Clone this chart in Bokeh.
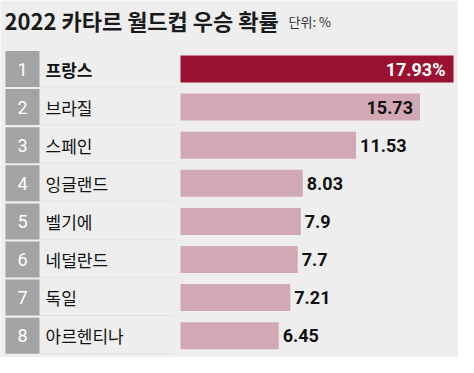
from bokeh.plotting import figure
from bokeh.models import ColumnDataSource, Range1d
from bokeh.core.properties import value
from bokeh.embed import file_html
from bokeh.resources import INLINE

# ---- data ----
ranks = [1, 2, 3, 4, 5, 6, 7, 8]
rank_labels = ["1", "2", "3", "4", "5", "6", "7", "8"]
countries = ["프랑스", "브라질", "스페인", "잉글랜드", "벨기에", "네덜란드", "독일", "아르헨티나"]
probs = [17.93, 15.73, 11.53, 8.03, 7.9, 7.7, 7.21, 6.45]
prob_labels = ["17.93%", "15.73", "11.53", "8.03", "7.9", "7.7", "7.21", "6.45"]
title_text = "2022 카타르 월드컵 우승 확률"
unit_text = "단위: %"

# ---- layout helpers (reference pixel -> data) ----
W, H = 458, 357
PX = 15.226          # pixels per percentage point
X0 = 188             # reference x of value 0
ROW = 38.1           # row pitch in pixels
Y1 = 76.5            # reference y of row 1 centre


def xd(px):
    return (px - X0) / PX


def yd(py):
    return 1 + (py - Y1) / ROW


BG = "#eeeeee"
DARK = "#9b1131"
PINK = "#d3a8b5"
BOX = "#a3a3a3"
KFONT = "Noto Sans CJK KR"
NFONT = "Roboto"

p = figure(width=W, height=H, output_backend="svg", toolbar_location=None,
           x_range=Range1d(xd(8), xd(8 + W)), y_range=Range1d(yd(8 + H), yd(8)),
           min_border=0)
p.axis.visible = False
p.grid.visible = False
p.outline_line_color = None
p.background_fill_color = BG
p.border_fill_color = BG

# title
p.text(x=[xd(12)], y=[yd(27)], text=[title_text], text_font=value(KFONT),
       text_font_size="22px", text_font_style="bold", text_color="#1a1a1a",
       text_baseline="middle", text_align="left")
p.text(x=[xd(296)], y=[yd(28.5)], text=[unit_text], text_font=value(KFONT),
       text_font_size="13px", text_color="#333333",
       text_baseline="middle", text_align="left")

half_box = 18 / ROW
src = ColumnDataSource(dict(
    rank=ranks, rank_label=rank_labels, country=countries, prob=probs,
    prob_label=prob_labels,
    top=[r - half_box for r in ranks], bottom=[r + half_box for r in ranks],
    sep=[r + 0.47 for r in ranks],
    color=[DARK if i == 0 else PINK for i in range(len(ranks))],
))

# row separators
p.segment(x0=xd(47), x1=xd(182), y0="sep", y1="sep", source=src,
          line_color="#e2e2e2", line_width=1)

# rank boxes
p.quad(left=xd(13), right=xd(47), top="top", bottom="bottom", source=src,
       fill_color=BOX, line_color=None)
p.text(x=xd(30), y="rank", text="rank_label", source=src, text_font=value(NFONT),
       text_font_size="18px", text_color="white", text_align="center",
       text_baseline="middle")

# country names
first = ColumnDataSource(dict(rank=ranks[:1], country=countries[:1]))
rest = ColumnDataSource(dict(rank=ranks[1:], country=countries[1:]))
p.text(x=xd(53), y="rank", text="country", source=first, text_font=value(KFONT),
       text_font_size="17px", text_font_style="bold", text_color="#111111",
       text_baseline="middle")
p.text(x=xd(53), y="rank", text="country", source=rest, text_font=value(KFONT),
       text_font_size="17px", text_color="#111111", text_baseline="middle")

# bars
p.hbar(y="rank", left=0, right="prob", height=27 / ROW, source=src,
       fill_color="color", line_color=None)

# value labels
inside_w = ColumnDataSource(dict(rank=ranks[:1], prob=probs[:1], lab=prob_labels[:1]))
inside_d = ColumnDataSource(dict(rank=ranks[1:2], prob=probs[1:2], lab=prob_labels[1:2]))
outside = ColumnDataSource(dict(rank=ranks[2:], prob=probs[2:], lab=prob_labels[2:]))
p.text(x="prob", y="rank", text="lab", source=inside_w, x_offset=-8,
       text_font=value(NFONT), text_font_size="18px", text_font_style="bold",
       text_color="white", text_align="right", text_baseline="middle")
p.text(x="prob", y="rank", text="lab", source=inside_d, x_offset=-7,
       text_font=value(NFONT), text_font_size="18px", text_font_style="bold",
       text_color="#111111", text_align="right", text_baseline="middle")
p.text(x="prob", y="rank", text="lab", source=outside, x_offset=4,
       text_font=value(NFONT), text_font_size="18px", text_font_style="bold",
       text_color="#111111", text_align="left", text_baseline="middle")

open("out.html", "w").write(file_html(p, INLINE))
